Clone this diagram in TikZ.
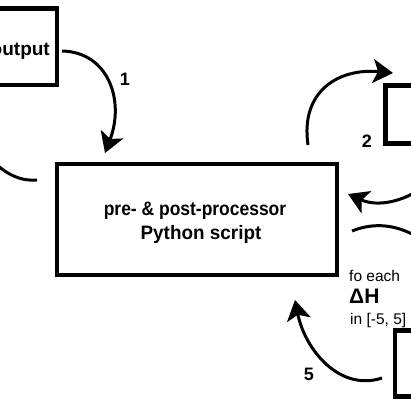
\documentclass[tikz,border=0pt]{standalone}
\usepackage{fontspec}
\setmainfont{Liberation Sans}
\usetikzlibrary{arrows.meta}
\begin{document}
\begin{tikzpicture}[x=1pt,y=-1pt,
  box/.style={draw, line width=4.5pt, inner sep=0pt},
  conn/.style={line width=3pt},
  arr/.style={conn, -{Stealth[length=20pt,width=24pt,inset=5pt]}},
  big/.style={font=\fontsize{18}{20}\selectfont\bfseries, inner sep=0pt},
  num/.style={font=\fontsize{18}{20}\selectfont\bfseries, inner sep=0pt},
  small/.style={font=\fontsize{15.5}{17}\selectfont, inner sep=0pt},
  delta/.style={font=\fontsize{21}{23}\selectfont\bfseries, inner sep=0pt}]
\useasboundingbox[fill=white] (0,0) rectangle (410,410);
% boxes
\node[box, minimum width=117pt, minimum height=76.5pt] (out) at (-1.5,46.75) {};
\node[big, anchor=base east, font=\fontsize{19}{20}\selectfont\bfseries] (outtxt) at (50,55) {output};
\node[box, minimum width=280pt, minimum height=111pt] (main) at (197,219.5) {};
\node[big, anchor=base, xscale=0.97, yscale=1.08] (t1) at (195,215) {pre- \& post-processor};
\node[big, anchor=base, xscale=1.05, yscale=1.08] (t2) at (201,239) {Python script};
\node[box, minimum width=90pt, minimum height=58pt] (b2) at (430.5,114.5) {};
\node[box, minimum width=90pt, minimum height=66pt] (b5) at (440,363.5) {};
% texts
\node[num, anchor=base] (n1) at (125,85) {1};
\node[num, anchor=base] (n2) at (367,147) {2};
\node[num, anchor=base] (n5) at (309,380) {5};
\node[small, anchor=base west] (fo) at (349,281) {fo each};
\node[delta, anchor=base west] (dh) at (349,303) {ΔH};
\node[small, anchor=base west] (in) at (350,324) {in [-5, 5]};
% connector end points
\coordinate (a1s) at (62,51);
\coordinate (a1e) at (105,153);
\coordinate (a2s) at (308,145);
\coordinate (a2e) at (393,73);
\coordinate (a3s) at (412,194);
\coordinate (a3e) at (348,194);
\coordinate (c4s) at (352,231);
\coordinate (c4e) at (412,234);
\coordinate (a5s) at (382,378);
\coordinate (a5e) at (295,300);
\coordinate (l0s) at (-3,165);
\coordinate (l0e) at (37,180);
% connectors
\draw[arr] (a1s) .. controls (108,52) and (125,100) .. (a1e);
\draw[arr] (a2s) .. controls (300,90) and (340,68) .. (a2e);
\draw[arr] (a3s) .. controls (395,203) and (375,206) .. (a3e);
\draw[conn] (c4s) .. controls (372,223) and (392,224) .. (c4e);
\draw[arr] (a5s) .. controls (340,392) and (305,350) .. (a5e);
\draw[conn] (l0s) .. controls (12,178) and (25,181) .. (l0e);
\end{tikzpicture}
\end{document}
